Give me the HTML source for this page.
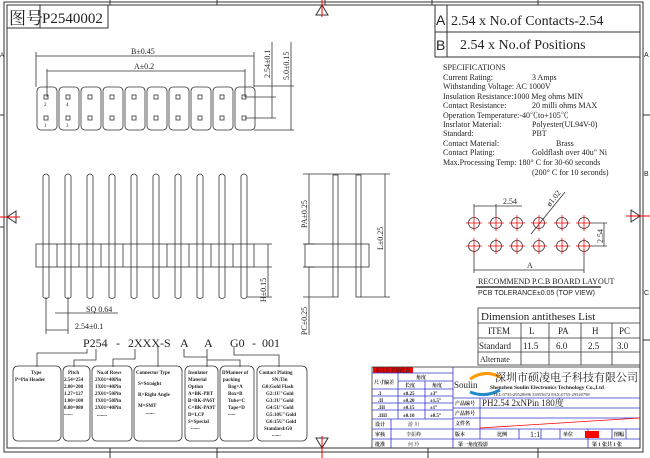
<!DOCTYPE html>
<html><head><meta charset="utf-8"><style>
body{margin:0;background:#fff}
svg{display:block}
text{font-family:"Liberation Serif","Noto Serif CJK SC",serif;fill:#222}
.s{font-family:"Liberation Sans","Noto Sans CJK SC",sans-serif}
</style></head><body>
<svg width="650" height="458" viewBox="0 0 650 458" xmlns="http://www.w3.org/2000/svg">
<g fill="none" stroke="#333" stroke-width="1">
<rect x="4" y="2" width="639" height="450"/>
<rect x="7" y="5" width="633" height="443"/>
<line x1="110" y1="0" x2="110" y2="5"/><line x1="217" y1="0" x2="217" y2="5"/><line x1="325" y1="0" x2="325" y2="5"/><line x1="432" y1="0" x2="432" y2="5"/><line x1="538" y1="0" x2="538" y2="5"/>
<line x1="110" y1="448" x2="110" y2="458"/><line x1="217" y1="448" x2="217" y2="458"/><line x1="428" y1="448" x2="428" y2="458"/><line x1="538" y1="448" x2="538" y2="458"/>
<line x1="0" y1="115" x2="4" y2="115"/><line x1="0" y1="227" x2="4" y2="227"/><line x1="643" y1="115" x2="650" y2="115"/><line x1="643" y1="340" x2="650" y2="340"/>
<rect x="7" y="5" width="101" height="23"/><line x1="40" y1="5" x2="40" y2="28"/>
<rect x="435" y="5" width="205" height="52"/><line x1="435" y1="32" x2="640" y2="32"/><line x1="447" y1="5" x2="447" y2="57"/>
</g>
<polygon points="322,5 328,15 316,15" fill="none" stroke="#333"/>
<line x1="322" y1="0" x2="322" y2="17" stroke="red"/>
<polygon points="7,217 16,211 16,223" fill="none" stroke="#333"/><line x1="0" y1="217" x2="20" y2="217" stroke="red"/>
<polygon points="322,448 316,438 328,438" fill="none" stroke="#333"/><line x1="322" y1="436" x2="322" y2="458" stroke="red"/>
<polygon points="640,216 631,210 631,222" fill="none" stroke="#333"/><line x1="626" y1="216" x2="650" y2="216" stroke="red"/>
<text x="9" y="24" font-size="17">图号</text><text x="42" y="23" font-size="15">P2540002</text>
<text x="436" y="25" font-size="14" class="s">A</text><text x="451" y="25" font-size="14">2.54 x No.of Contacts-2.54</text>
<text x="436" y="50" font-size="14" class="s">B</text><text x="460" y="49" font-size="14">2.54 x No.of Positions</text>
<text x="644" y="57" font-size="7" class="s">A</text><text x="644" y="176" font-size="7" class="s">B</text><text x="644" y="295" font-size="7" class="s">C</text>
<text x="0" y="57" font-size="6" class="s">A</text>
<g font-size="8">
<text x="443" y="70">SPECIFICATIONS</text>
<text x="443" y="80">Current Rating:</text><text x="532" y="80">3 Amps</text>
<text x="443" y="89">Withstanding Voltage: AC  1000V</text>
<text x="443" y="99">Insulation Resistance:1000 Meg ohms MIN</text>
<text x="443" y="108">Contact Resistance:</text><text x="532" y="108">20 milli ohms MAX</text>
<text x="443" y="118">Operation Temperature:-40℃to+105℃</text>
<text x="443" y="127">Insrlator Material:</text><text x="532" y="127">Polyester(UL94V-0)</text>
<text x="443" y="136">Standard:</text><text x="532" y="136">PBT</text>
<text x="443" y="146">Contact Material:</text><text x="556" y="146">Brass</text>
<text x="443" y="155">Contact Plating:</text><text x="532" y="155">Goldflash over 40u" Ni</text>
<text x="443" y="165">Max.Processing Temp: 180° C for 30-60 seconds</text>
<text x="532" y="175">(200° C for 10 seconds)</text>
</g>
<g fill="none" stroke="#333" stroke-width="0.8">
<line x1="36" y1="52" x2="36" y2="87"/><line x1="254" y1="52" x2="254" y2="87"/>
<line x1="36" y1="56" x2="254" y2="56"/>
<line x1="47" y1="69" x2="47" y2="97"/><line x1="245" y1="69" x2="245" y2="97"/>
<line x1="47" y1="71" x2="245" y2="71"/>
<rect x="37" y="87" width="20" height="43" rx="4"/><rect x="59" y="87" width="20" height="43" rx="4"/><rect x="81" y="87" width="20" height="43" rx="4"/><rect x="103" y="87" width="20" height="43" rx="4"/><rect x="125" y="87" width="20" height="43" rx="4"/><rect x="147" y="87" width="20" height="43" rx="4"/><rect x="169" y="87" width="20" height="43" rx="4"/><rect x="191" y="87" width="20" height="43" rx="4"/><rect x="213" y="87" width="20" height="43" rx="4"/><rect x="235" y="87" width="20" height="43" rx="4"/>
<line x1="254" y1="86" x2="294" y2="86"/><line x1="254" y1="130" x2="294" y2="130"/>
<line x1="245" y1="97" x2="276" y2="97"/><line x1="245" y1="118" x2="276" y2="118"/>
<line x1="272" y1="42" x2="272" y2="118"/><line x1="291" y1="42" x2="291" y2="130"/>
</g>
<g fill="none" stroke="#333" stroke-width="0.8">
<rect x="44" y="95" width="4" height="4"/><rect x="66" y="95" width="4" height="4"/><rect x="88" y="95" width="4" height="4"/><rect x="110" y="95" width="4" height="4"/><rect x="132" y="95" width="4" height="4"/><rect x="154" y="95" width="4" height="4"/><rect x="176" y="95" width="4" height="4"/><rect x="198" y="95" width="4" height="4"/><rect x="220" y="95" width="4" height="4"/><rect x="242" y="95" width="4" height="4"/>
<rect x="44" y="116" width="4" height="4"/><rect x="66" y="116" width="4" height="4"/><rect x="88" y="116" width="4" height="4"/><rect x="110" y="116" width="4" height="4"/><rect x="132" y="116" width="4" height="4"/><rect x="154" y="116" width="4" height="4"/><rect x="176" y="116" width="4" height="4"/><rect x="198" y="116" width="4" height="4"/><rect x="220" y="116" width="4" height="4"/><rect x="242" y="116" width="4" height="4"/>
</g>
<g class="s" font-size="8"><text x="131" y="54">B±0.45</text><text x="134" y="69">A±0.2</text>
<text transform="translate(270,78) rotate(-90)">2.54±0.1</text><text transform="translate(289,80) rotate(-90)">5.0±0.15</text>
<text x="44" y="106" font-size="5" fill="#a60">2</text><text x="66" y="106" font-size="5" fill="#a60">4</text><text x="44" y="127" font-size="5" fill="#a60">1</text><text x="66" y="127" font-size="5" fill="#a60">3</text></g>
<g fill="none" stroke="#333" stroke-width="0.8">
<rect x="36" y="244" width="218" height="23"/>
<line x1="57" y1="244" x2="57" y2="267"/><line x1="79" y1="244" x2="79" y2="267"/><line x1="101" y1="244" x2="101" y2="267"/><line x1="123" y1="244" x2="123" y2="267"/><line x1="167" y1="244" x2="167" y2="267"/><line x1="189" y1="244" x2="189" y2="267"/><line x1="211" y1="244" x2="211" y2="267"/><line x1="233" y1="244" x2="233" y2="267"/>
<path d="M43 176 q3 -4 6 0 v121 q-3 3 -6 0z M65 176 q3 -4 6 0 v121 q-3 3 -6 0z M87 176 q3 -4 6 0 v121 q-3 3 -6 0z M109 176 q3 -4 6 0 v121 q-3 3 -6 0z M131 176 q3 -4 6 0 v121 q-3 3 -6 0z M153 176 q3 -4 6 0 v121 q-3 3 -6 0z M175 176 q3 -4 6 0 v121 q-3 3 -6 0z M197 176 q3 -4 6 0 v121 q-3 3 -6 0z M219 176 q3 -4 6 0 v121 q-3 3 -6 0z M241 176 q3 -4 6 0 v121 q-3 3 -6 0z"/>
<line x1="254" y1="244" x2="272" y2="244"/><line x1="254" y1="267" x2="272" y2="267"/><line x1="247" y1="297" x2="272" y2="297"/>
<line x1="268" y1="244" x2="268" y2="297"/>
<line x1="46" y1="297" x2="46" y2="334"/><line x1="68" y1="297" x2="68" y2="334"/>
<line x1="55" y1="313" x2="118" y2="313"/><line x1="46" y1="330" x2="68" y2="330"/>
</g>
<g class="s" font-size="8"><text transform="translate(266,302) rotate(-90)">H±0.15</text>
<text x="86" y="312">SQ 0.64</text><text x="75" y="329">2.54±0.1</text></g>
<g fill="none" stroke="#333" stroke-width="0.8">
<rect x="305" y="244" width="64" height="23"/>
<rect x="333" y="175" width="5" height="122"/><rect x="356" y="175" width="5" height="122"/>
<line x1="303" y1="174" x2="390" y2="174"/><line x1="303" y1="244" x2="315" y2="244"/><line x1="303" y1="267" x2="315" y2="267"/>
<line x1="361" y1="297" x2="390" y2="297"/><line x1="303" y1="297" x2="333" y2="297"/>
<line x1="309" y1="174" x2="309" y2="244"/><line x1="309" y1="267" x2="309" y2="335"/>
<line x1="385" y1="174" x2="385" y2="297"/>
</g>
<g class="s" font-size="8"><text transform="translate(307,228) rotate(-90)">PA±0.25</text><text transform="translate(307,335) rotate(-90)">PC±0.25</text><text transform="translate(383,250) rotate(-90)">L±0.25</text></g>
<g fill="none" stroke="#333" stroke-width="0.8">
<circle cx="474" cy="223" r="5.5"/><circle cx="496" cy="223" r="5.5"/><circle cx="517" cy="223" r="5.5"/><circle cx="539" cy="223" r="5.5"/><circle cx="562" cy="223" r="5.5"/><circle cx="584" cy="223" r="5.5"/>
<circle cx="474" cy="246" r="5.5"/><circle cx="496" cy="246" r="5.5"/><circle cx="517" cy="246" r="5.5"/><circle cx="539" cy="246" r="5.5"/><circle cx="562" cy="246" r="5.5"/><circle cx="584" cy="246" r="5.5"/>
<line x1="474" y1="204" x2="474" y2="215"/><line x1="496" y1="204" x2="496" y2="215"/><line x1="474" y1="206" x2="522" y2="206"/>
<line x1="531" y1="234" x2="565" y2="192"/>
<line x1="590" y1="223" x2="607" y2="223"/><line x1="590" y1="246" x2="607" y2="246"/><line x1="604" y1="223" x2="604" y2="246"/>
<line x1="474" y1="252" x2="474" y2="273"/><line x1="584" y1="252" x2="584" y2="273"/><line x1="474" y1="270" x2="584" y2="270"/>
<line x1="476" y1="287" x2="601" y2="287" stroke-width="1.5"/>
</g>
<g stroke="red" stroke-width="0.8">
<path d="M466 223h16M488 223h16M509 223h16M531 223h16M554 223h16M576 223h16M466 246h16M488 246h16M509 246h16M531 246h16M554 246h16M576 246h16"/>
<path d="M474 215v16M496 215v16M517 215v16M539 215v16M562 215v16M584 215v16M474 238v16M496 238v16M517 238v16M539 238v16M562 238v16M584 238v16"/>
</g>
<g class="s" font-size="8"><text x="503" y="204">2.54</text><text transform="translate(550,207) rotate(-52)">ø1.02</text><text transform="translate(603,243) rotate(-90)">2.54</text><text x="527" y="268">A</text></g>
<text x="478" y="284" font-size="8">RECOMMEND P.C.B BOARD LAYOUT</text>
<text x="478" y="295" font-size="7" class="s">PCB TOLERANCE±0.05 (TOP VIEW)</text>
<g fill="none" stroke="#333" stroke-width="0.8">
<rect x="478" y="308" width="162" height="57"/>
<line x1="478" y1="323" x2="640" y2="323"/><line x1="478" y1="338" x2="640" y2="338"/><line x1="478" y1="352" x2="640" y2="352"/>
<line x1="521" y1="323" x2="521" y2="365"/><line x1="549" y1="323" x2="549" y2="365"/><line x1="581" y1="323" x2="581" y2="365"/><line x1="612" y1="323" x2="612" y2="365"/>
</g>
<text x="481" y="320" font-size="11">Dimension antitheses List</text>
<g font-size="9"><text x="488" y="334">ITEM</text><text x="529" y="334">L</text><text x="558" y="334">PA</text><text x="592" y="334">H</text><text x="619" y="334">PC</text>
<text x="479" y="349">Standard</text><text x="523" y="349">11.5</text><text x="556" y="349">6.0</text><text x="588" y="349">2.5</text><text x="617" y="349">3.0</text>
<text x="480" y="362" font-size="8">Alternate</text></g>
<g font-size="12" fill="#333">
<text x="83" y="347">P254</text><text x="116" y="347">-</text><text x="128" y="347">2XXX-S</text><text x="180" y="347">A</text><text x="204" y="347">A</text><text x="230" y="347">G0</text><text x="252" y="347">-</text><text x="262" y="347">001</text>
</g>
<g fill="none" stroke="#333" stroke-width="0.8">
<path d="M37 367v-14h50v-4M74 367v-7h22v-11M113 367v-8h22v-10M158 367v-20M207 367v-10h-23v-8M240 367v-7h-33v-11M279 367v-12h-45v-8"/>
<rect x="13" y="366" width="48" height="75" rx="5"/>
<rect x="63" y="366" width="27" height="75" rx="5"/>
<rect x="92" y="366" width="40" height="75" rx="5"/>
<rect x="134" y="366" width="48" height="75" rx="5"/>
<rect x="185" y="366" width="33" height="75" rx="5"/>
<rect x="220" y="366" width="34" height="75" rx="5"/>
<rect x="257" y="366" width="50" height="75" rx="5"/>
</g>
<g font-size="5" font-weight="bold">
<text x="31" y="374">Type</text><text x="15" y="381">P=Pin Header</text>
<text x="68" y="374">Pitch</text><text x="64" y="381">2.54=254</text><text x="64" y="388">2.00=200</text><text x="64" y="395">1.27=127</text><text x="64" y="402">1.00=100</text><text x="64" y="409">0.80=080</text><text x="64" y="415">.......</text>
<text x="97" y="374">No.of Rows</text><text x="95" y="381">2X01=40Pin</text><text x="95" y="388">1X01=40Pin</text><text x="95" y="395">2X01=50Pin</text><text x="95" y="402">1X01=50Pin</text><text x="95" y="409">2X01=40Pin</text><text x="97" y="416">........</text>
<text x="136" y="374">Connector Type</text><text x="138" y="385">S=Straight</text><text x="138" y="396">R=Right Angle</text><text x="138" y="407">M=SMT</text><text x="146" y="414">.......</text>
<text x="188" y="374">Insulator</text><text x="188" y="381">Material</text><text x="188" y="388">Option</text><text x="188" y="395">A=BK-PBT</text><text x="188" y="402">B=BK-PA6T</text><text x="188" y="409">C=BK-PA9T</text><text x="188" y="416">D=LCP</text><text x="188" y="423">S=Special</text><text x="191" y="429">.......</text>
<text x="222" y="374">DManner of</text><text x="223" y="381">packing</text><text x="228" y="388">Bag=A</text><text x="228" y="395">Box=B</text><text x="228" y="402">Tube=C</text><text x="228" y="409">Tape=D</text><text x="228" y="415">......</text>
<text x="259" y="374">Contact Plating</text><text x="272" y="381">SN:Tin</text><text x="262" y="388">G0:Gold Flash</text><text x="266" y="395">G2:1U"Gold</text><text x="266" y="402">G3:3U"Gold</text><text x="266" y="409">G4:5U"Gold</text><text x="266" y="416">G5:10U"Gold</text><text x="266" y="423">G6:15U"Gold</text><text x="264" y="430">Standard:G0</text><text x="272" y="436">.......</text>
</g>
<rect x="373" y="367" width="40" height="6" fill="red"/>
<g fill="none" stroke="#33c" stroke-width="0.8">
<rect x="372" y="367" width="268" height="81" stroke="#333"/>
<line x1="372" y1="373" x2="453" y2="373"/>
<line x1="453" y1="367" x2="453" y2="448"/>
<line x1="372" y1="389" x2="453" y2="389"/><line x1="372" y1="396" x2="453" y2="396"/><line x1="372" y1="403" x2="453" y2="403"/><line x1="372" y1="410" x2="453" y2="410"/><line x1="372" y1="419" x2="453" y2="419"/><line x1="372" y1="429" x2="640" y2="429"/><line x1="372" y1="439" x2="640" y2="439"/>
<line x1="398" y1="373" x2="398" y2="419"/><line x1="398" y1="381" x2="453" y2="381"/><line x1="425" y1="381" x2="425" y2="419"/>
<line x1="391" y1="419" x2="391" y2="448"/>
<line x1="453" y1="398" x2="640" y2="398"/><line x1="453" y1="408" x2="640" y2="408"/><line x1="453" y1="418" x2="640" y2="418"/>
<line x1="480" y1="398" x2="480" y2="439"/>
<line x1="519" y1="429" x2="519" y2="439"/><line x1="541" y1="429" x2="541" y2="439"/><line x1="588" y1="429" x2="588" y2="448"/><line x1="612" y1="429" x2="612" y2="439"/><line x1="626" y1="429" x2="626" y2="439"/><line x1="560" y1="429" x2="560" y2="439"/>
</g>
<line x1="480" y1="428" x2="640" y2="418" stroke="red" stroke-width="0.8"/>
<rect x="585" y="431" width="14" height="7" fill="red"/>
<g font-size="5" font-weight="bold"><text x="374" y="384">尺寸偏差</text><text x="416" y="379">角度</text><text x="405" y="387">长度</text><text x="432" y="387">角度</text>
<text x="378" y="395">.I</text><text x="403" y="395">±0.25</text><text x="430" y="395">±3°</text>
<text x="378" y="402">.II</text><text x="403" y="402">±0.20</text><text x="430" y="402">±1.5°</text>
<text x="378" y="409">.III</text><text x="403" y="409">±0.15</text><text x="430" y="409">±1°</text>
<text x="378" y="417">.IIII</text><text x="403" y="417">±0.10</text><text x="430" y="417">±0.5°</text>
<text x="375" y="426">设计</text><text x="375" y="436">审核</text><text x="375" y="446">批准</text>
<text x="455" y="405">产品编号</text><text x="455" y="415">产品料号</text><text x="455" y="425">文件名</text><text x="455" y="436">版本</text><text x="497" y="436">比例</text><text x="563" y="436">单位</text><text x="614" y="436">图幅</text><text x="458" y="446">第一角度投影</text><text x="592" y="446">第 1 张共 1 张</text>
<text x="375" y="372" fill="#fff">未注公差按此表</text></g>
<g font-size="5" fill="#555"><text x="408" y="426">游 川</text><text x="406" y="436">李振峰</text><text x="408" y="446">何 玲</text></g>
<text x="530" y="437" font-size="8" fill="red">1:1</text>
<path d="M470 379 q15 -10 30 -2" stroke="#f90" stroke-width="3" fill="none"/><path d="M470 392 q15 6 30 -2" stroke="#28c" stroke-width="3" fill="none"/>
<text x="454" y="388" font-size="9" fill="#777">Soulin</text>
<text x="495" y="381" font-size="11" fill="#557">深圳市硕凌电子科技有限公司</text>
<text x="490" y="389" font-size="5.5" font-weight="bold">Shenzhen Soulin Electronics Technology Co.,Ltd</text>
<text x="493" y="396" font-size="4.5" fill="red">TEL:0755-29520696 33953672   FAX:0755-29520798</text>
<text x="482" y="406" font-size="9" fill="#555">PH2.54 2xNPin 180度</text>
</svg>
</body></html>
